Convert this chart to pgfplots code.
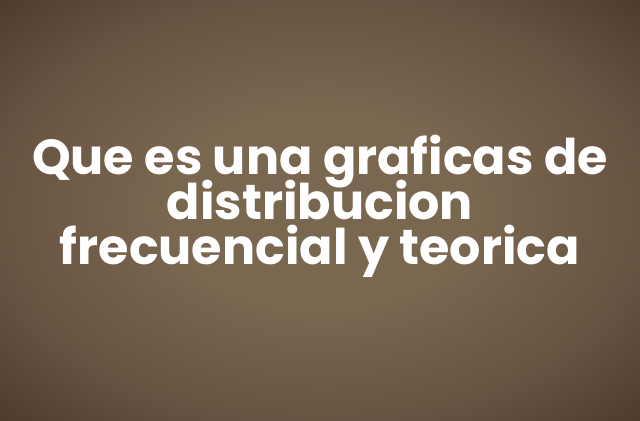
\documentclass[border=0pt]{standalone}
\usepackage{pgfplots}
\pgfplotsset{compat=1.18}
\usepackage{fontspec}
\setmainfont{Poppins}
\definecolor{bgmid}{HTML}{7A6750}
\definecolor{bgring}{HTML}{665240}
\definecolor{bgedge}{HTML}{4A3526}
\pgfdeclareradialshading{vignette}{\pgfpoint{0bp}{0bp}}{%
  color(0bp)=(bgmid); color(12bp)=(bgmid); color(26bp)=(bgring);
  color(38bp)=(bgedge); color(50bp)=(bgedge)}
\begin{document}
\begin{tikzpicture}
\begin{axis}[
    width=16cm, height=10.5cm,
    scale only axis,
    xmin=0, xmax=640,
    ymin=0, ymax=420,
    axis lines=none,
    ticks=none,
    clip=true,
]
% background: warm brown with a dark vignette
\path[shading=vignette]
    (axis cs:0,0) rectangle (axis cs:640,420);
\tikzset{title line/.style={text=white, anchor=base, inner sep=0pt,
    font=\fontsize{35}{35}\selectfont\bfseries}}
\node[title line] at (axis cs:320,246) {Que es una graficas de};
\node[title line] at (axis cs:320,201) {distribucion};
\node[title line] at (axis cs:320,156) {frecuencial y teorica};
\end{axis}
\end{tikzpicture}
\end{document}
